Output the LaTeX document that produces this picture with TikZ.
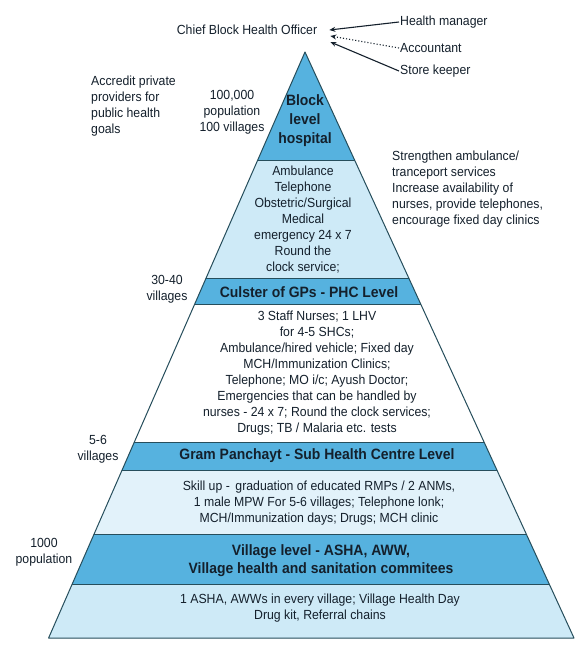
\documentclass[tikz,border=0pt]{standalone}
\usepackage{fontspec}
\setmainfont[FakeStretch=0.93]{Liberation Sans}
\usetikzlibrary{calc,arrows.meta}
\definecolor{midblue}{RGB}{86,178,223}
\definecolor{lightblue}{RGB}{206,234,247}
\definecolor{paleblue}{RGB}{226,242,250}
\definecolor{txt}{RGB}{20,32,44}
\definecolor{edge}{RGB}{38,78,92}
\newcommand\pyrband[3]{%
  \fill[#3] ($(A)!{(#1-52)/586}!(BL)$) -- ($(A)!{(#2-52)/586}!(BL)$) --
            ($(A)!{(#2-52)/586}!(BR)$) -- ($(A)!{(#1-52)/586}!(BR)$) -- cycle;}
\newcommand\pyrline[1]{%
  \draw[edge,line width=1pt] ($(A)!{(#1-52)/586}!(BL)$) -- ($(A)!{(#1-52)/586}!(BR)$);}
\begin{document}
\begin{tikzpicture}[x=1pt,y=-1pt,
  lbl/.style={text=txt,align=center,inner sep=1pt,font=\fontsize{13.2}{16}\selectfont},
  hdr/.style={text=txt,align=center,inner sep=1pt,font=\fontsize{15}{18}\selectfont\bfseries},
  arr/.style={-{Stealth[length=6pt,width=5pt]},draw=txt,line width=1.1pt}]
\useasboundingbox (0,0) rectangle (584,651);
\fill[white] (0,0) rectangle (584,651);
\coordinate (A) at (305,52);
\coordinate (BL) at (48.6,638);
\coordinate (BR) at (574,638);
% bands
\pyrband{52}{160}{midblue}
\pyrband{160}{279}{lightblue}
\pyrband{279}{305}{midblue}
\pyrband{305}{442}{white}
\pyrband{442}{470}{midblue}
\pyrband{470}{534}{paleblue}
\pyrband{534}{584}{midblue}
\pyrband{584}{638}{lightblue}
\pyrline{160}\pyrline{279}\pyrline{305}\pyrline{442}\pyrline{470}\pyrline{534}\pyrline{584}
\draw[edge,line width=1pt,line join=round] (A) -- (BL) -- (BR) -- cycle;
% top labels
\node[lbl] (cbho) at (247,30) {Chief Block Health Officer};
\node[lbl,anchor=west] (hm) at (399,22) {Health manager};
\node[lbl,anchor=west] (acc) at (399,48) {Accountant};
\node[lbl,anchor=west] (sk) at (399,71) {Store keeper};
\draw[arr] (hm.west) -- ([xshift=11pt,yshift=0pt]cbho.east);
\draw[arr,dotted] (acc.west) -- ([xshift=12pt,yshift=-6pt]cbho.east);
\draw[arr] (sk.west) -- ([xshift=12pt,yshift=-12pt]cbho.east);
% side labels
\node[lbl,align=left,anchor=west] (accr) at (90,106) {Accredit private\\providers for\\public health\\goals};
\node[lbl] (pop) at (232,112) {100,000\\population\\100 villages};
\node[lbl,align=left,anchor=west] (str) at (391,189) {Strengthen ambulance/\\tranceport services\\Increase availability of\\nurses, provide telephones,\\encourage fixed day clinics};
\node[lbl] (v3040) at (167,289) {30-40\\villages};
\node[lbl] (v56) at (98,449) {5-6\\villages};
\node[lbl] (p1000) at (44,552) {1000\\population};
% pyramid texts
\node[hdr,font=\fontsize{15}{19}\selectfont\bfseries] (blk) at (305,121) {Block\\level\\hospital};
\node[lbl] (amb) at (303,220) {Ambulance\\Telephone\\Obstetric/Surgical\\Medical\\emergency 24 x 7\\Round the\\clock service;};
\node[hdr] (phc) at (309,292) {Culster of GPs - PHC Level};
\node[lbl] (phcc) at (317,373.5) {3 Staff Nurses; 1 LHV\\for 4-5 SHCs;\\Ambulance/hired vehicle; Fixed day\\MCH/Immunization Clinics;\\Telephone; MO i/c; Ayush Doctor;\\Emergencies that can be handled by\\nurses - 24 x 7; Round the clock services;\\Drugs; TB / Malaria etc. tests};
\node[hdr] (gram) at (317,456) {Gram Panchayt - Sub Health Centre Level};
\node[lbl] (skill) at (319,503) {Skill up -\, graduation of educated RMPs / 2 ANMs,\\1 male MPW For 5-6 villages; Telephone lonk;\\MCH/Immunization days; Drugs; MCH clinic};
\node[hdr] (vill) at (321,561) {Village level - ASHA, AWW,\\Village health and sanitation commitees};
\node[lbl] (asha) at (320,608) {1 ASHA, AWWs in every village; Village Health Day\\Drug kit, Referral chains};
\end{tikzpicture}
\end{document}
